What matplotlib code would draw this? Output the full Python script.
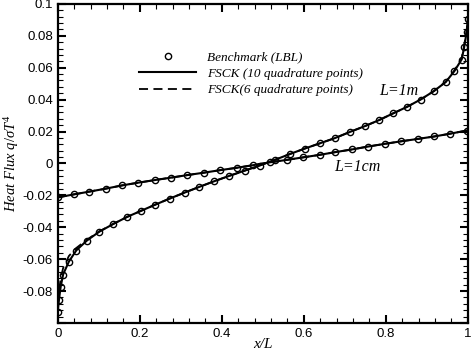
import numpy as np
import matplotlib
matplotlib.use('Agg')
import matplotlib.pyplot as plt
from matplotlib.ticker import MultipleLocator, FuncFormatter

# L = 1 m (benchmark points)
x_1m = [0, 0.003, 0.007, 0.013, 0.027, 0.045, 0.071, 0.101, 0.135, 0.169, 0.203,
        0.237, 0.273, 0.31, 0.345, 0.381, 0.418, 0.456, 0.493, 0.529, 0.566,
        0.602, 0.639, 0.676, 0.712, 0.749, 0.783, 0.818, 0.852, 0.885, 0.917,
        0.946, 0.967, 0.985, 0.991, 0.997, 1.0]
q_1m_lbl = [-0.093, -0.0854, -0.0777, -0.0698, -0.062, -0.0548, -0.0485, -0.0429,
            -0.0381, -0.0336, -0.0298, -0.026, -0.0221, -0.0183, -0.0148, -0.0113,
            -0.0079, -0.0046, -0.0013, 0.0021, 0.0058, 0.0092, 0.0125, 0.0158,
            0.0196, 0.0233, 0.027, 0.0313, 0.0354, 0.040, 0.0452, 0.0508, 0.0577,
            0.065, 0.0727, 0.0823, 0.0906]
q_1m_fsck10 = [-0.092, -0.0850, -0.0772, -0.0695, -0.0615, -0.0545, -0.0483, -0.0428,
               -0.0380, -0.0335, -0.0297, -0.0259, -0.0220, -0.0182, -0.0147, -0.0112,
               -0.0078, -0.0045, -0.0012, 0.0022, 0.0059, 0.0093, 0.0126, 0.0159,
               0.0197, 0.0234, 0.0271, 0.0314, 0.0355, 0.0401, 0.0453, 0.0510, 0.0578,
               0.0652, 0.0728, 0.0822, 0.0905]
q_1m_fsck6 = [-0.088, -0.0800, -0.0720, -0.0655, -0.0580, -0.0530, -0.0478, -0.0426,
              -0.0379, -0.0335, -0.0297, -0.0259, -0.0220, -0.0182, -0.0147, -0.0112,
              -0.0078, -0.0045, -0.0012, 0.0022, 0.0059, 0.0093, 0.0126, 0.0159,
              0.0197, 0.0234, 0.0271, 0.0314, 0.0355, 0.0401, 0.0453, 0.0512, 0.0582,
              0.0660, 0.0740, 0.0830, 0.0900]

# L = 1 cm (benchmark points)
x_1cm = [0, 0.039, 0.076, 0.117, 0.156, 0.195, 0.237, 0.276, 0.316, 0.356, 0.396,
         0.437, 0.476, 0.517, 0.558, 0.598, 0.639, 0.677, 0.718, 0.757, 0.798,
         0.838, 0.879, 0.918, 0.956, 0.997]
q_1cm_lbl = [-0.0213, -0.0194, -0.0177, -0.0158, -0.0138, -0.0121, -0.0104, -0.0089,
             -0.0073, -0.0058, -0.0042, -0.0027, -0.0011, 0.0007, 0.0022, 0.0038,
             0.0054, 0.0071, 0.0088, 0.0106, 0.0123, 0.0139, 0.0154, 0.0169, 0.0186,
             0.0206]
q_1cm_fsck10 = q_1cm_lbl
q_1cm_fsck6 = q_1cm_lbl

serif = 'Liberation Serif'
plt.rcParams['font.family'] = 'Liberation Sans'
plt.rcParams['mathtext.fontset'] = 'custom'
plt.rcParams['mathtext.it'] = 'Liberation Serif:italic'
plt.rcParams['mathtext.rm'] = 'Liberation Serif'

fig = plt.figure(figsize=(4.74, 3.53), dpi=100)
ax = fig.add_axes([0.122, 0.085, 0.865, 0.904])

ax.plot(x_1m, q_1m_fsck10, color='black', lw=1.5, label='FSCK (10 quadrature points)')
ax.plot(x_1m, q_1m_fsck6, color='black', lw=1.3, ls=(0, (5, 3)), label='FSCK(6 quadrature points)')
ax.plot(x_1cm, q_1cm_fsck10, color='black', lw=1.5)
ax.plot(x_1cm, q_1cm_fsck6, color='black', lw=1.3, ls=(0, (5, 3)))
ax.plot(x_1m, q_1m_lbl, 'o', ms=4.5, mfc='none', mec='black', mew=1.0, label='Benchmark (LBL)')
ax.plot(x_1cm, q_1cm_lbl, 'o', ms=4.5, mfc='none', mec='black', mew=1.0)

ax.set_xlim(0, 1)
ax.set_ylim(-0.1, 0.1)
ax.xaxis.set_major_locator(MultipleLocator(0.2))
ax.xaxis.set_minor_locator(MultipleLocator(0.04))
ax.yaxis.set_major_locator(MultipleLocator(0.02))
ax.yaxis.set_minor_locator(MultipleLocator(0.004))


def fmt(v, pos):
    if abs(v + 0.1) < 1e-9:
        return ''
    if abs(v) < 1e-9:
        return '0'
    return '%g' % round(v, 3)


ax.xaxis.set_major_formatter(FuncFormatter(fmt))
ax.yaxis.set_major_formatter(FuncFormatter(fmt))
ax.tick_params(which='both', direction='in', top=True, right=True, labelsize=9.5)
ax.tick_params(which='major', length=6, width=1.5)
ax.tick_params(which='minor', length=3.5, width=0.8)
for s in ax.spines.values():
    s.set_linewidth(1.6)

ax.set_xlabel('x/L', family=serif, style='italic', fontsize=11, labelpad=-1)
ax.set_ylabel(r'Heat Flux $q/\sigma T^4$', family=serif, style='italic', fontsize=10.5)
ax.yaxis.set_label_coords(-0.09, 0.5)

ax.text(0.785, 0.043, 'L=1m', family=serif, style='italic', fontsize=11.5)
ax.text(0.675, -0.005, 'L=1cm', family=serif, style='italic', fontsize=11.5)

h, l = ax.get_legend_handles_labels()
order = [2, 0, 1]
ax.legend([h[i] for i in order], [l[i] for i in order], loc='upper left',
          bbox_to_anchor=(0.17, 0.888), frameon=False, numpoints=1, handlelength=4.3,
          handletextpad=0.8, labelspacing=0.3, prop={'family': serif, 'style': 'italic', 'size': 9.5})

fig.savefig('out.png', dpi=100)
